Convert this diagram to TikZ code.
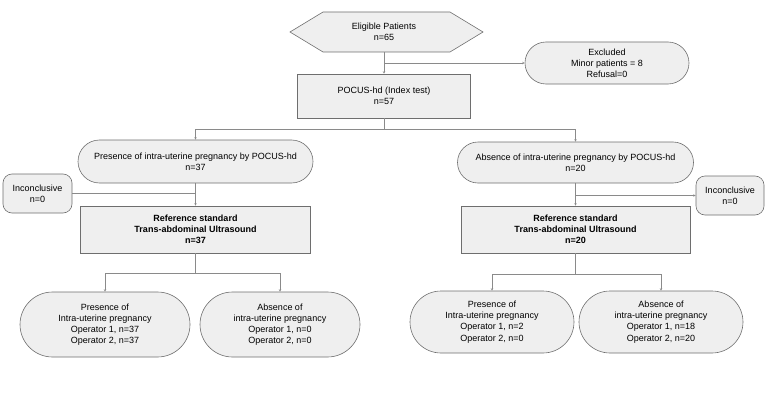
\documentclass[tikz,border=0pt]{standalone}
\usepackage{fontspec}
\setmainfont{Liberation Sans}
\usetikzlibrary{shapes.misc,arrows.meta}
\definecolor{boxfill}{HTML}{EFEFEF}
\definecolor{boxdraw}{HTML}{6E6E6E}
\definecolor{linecol}{HTML}{8A8A8A}
\begin{document}
\begin{tikzpicture}[x=1pt,y=-1pt,
  every node/.style={font=\fontsize{9}{11.2}\selectfont, align=center, inner sep=0pt},
  rectbox/.style={draw=boxdraw, fill=boxfill, line width=0.6pt, rectangle},
  pill/.style={draw=boxdraw, fill=boxfill, line width=0.6pt, rounded rectangle},
  smallbox/.style={draw=boxdraw, fill=boxfill, line width=0.6pt, rectangle, rounded corners=9pt},
  conn/.style={draw=linecol, line width=0.7pt},
  arr/.style={conn, -{Stealth[length=2.5pt,width=2.5pt]}}
]
\useasboundingbox (0,0) rectangle (768,412);

% Eligible hexagon
\draw[draw=boxdraw, fill=boxfill, line width=0.6pt]
  (290,32) -- (323,12) -- (450,12) -- (483,32) -- (450,52) -- (323,52) -- cycle;
\node[minimum width=190pt, minimum height=40pt] (elig) at (384,32) {Eligible Patients\\n=65};

\node[pill, minimum width=164pt, minimum height=42pt] (excl) at (607,63) {Excluded\\Minor patients = 8\\Refusal=0};
\node[rectbox, minimum width=173pt, minimum height=44pt] (pocus) at (384,96) {POCUS-hd (Index test)\\n=57};

\node[pill, minimum width=235pt, minimum height=43pt] (pres) at (195.5,161.5) {Presence of intra-uterine pregnancy by POCUS-hd\\n=37};
\node[pill, minimum width=236pt, minimum height=41pt] (abs) at (575.5,162.5) {Absence of intra-uterine pregnancy by POCUS-hd\\n=20};

\node[smallbox, minimum width=69pt, minimum height=39pt] (incl) at (37.5,193.5) {Inconclusive\\n=0};
\node[smallbox, minimum width=68pt, minimum height=39pt] (incr) at (730,195.5) {Inconclusive\\n=0};

\node[rectbox, minimum width=230pt, minimum height=47pt] (refl) at (195.5,229.5) {\textbf{Reference standard}\\\textbf{Trans-abdominal Ultrasound}\\\textbf{n=37}};
\node[rectbox, minimum width=229pt, minimum height=47pt] (refr) at (575.5,229.5) {\textbf{Reference standard}\\\textbf{Trans-abdominal Ultrasound}\\\textbf{n=20}};

\node[pill, minimum width=170pt, minimum height=65pt] (b1) at (105,324.5) {Presence of\\Intra-uterine pregnancy\\Operator 1, n=37\\Operator 2, n=37};
\node[pill, minimum width=160pt, minimum height=65pt] (b2) at (280,324.5) {Absence of\\intra-uterine pregnancy\\Operator 1, n=0\\Operator 2, n=0};
\node[pill, minimum width=164pt, minimum height=62pt] (b3) at (492,322) {Presence of\\Intra-uterine pregnancy\\Operator 1, n=2\\Operator 2, n=0};
\node[pill, minimum width=164pt, minimum height=62pt] (b4) at (661,322) {Absence of\\intra-uterine pregnancy\\Operator 1, n=18\\Operator 2, n=20};

% connectors
\draw[arr] (elig.south) -- (pocus.north);
\draw[arr] (elig.south |- excl.west) -- (excl.west);
\draw[arr] (pocus.south) -- ++(0,11) -| (pres.north);
\draw[arr] (pocus.south) -- ++(0,11) -| (abs.north);
\draw[arr] (pres.south) -- (refl.north);
\draw[arr] (abs.south) -- (refr.north);
\draw[conn] (incl.east) -- (incl.east -| pres.south);
\draw[arr] (abs.south |- incr.west) -- (incr.west);
\draw[arr] (refl.south) -- ++(0,20) -| (b1.north);
\draw[arr] (refl.south) -- ++(0,20) -| (b2.north);
\draw[arr] (refr.south) -- ++(0,21) -| (b3.north);
\draw[arr] (refr.south) -- ++(0,21) -| (b4.north);
\end{tikzpicture}
\end{document}
